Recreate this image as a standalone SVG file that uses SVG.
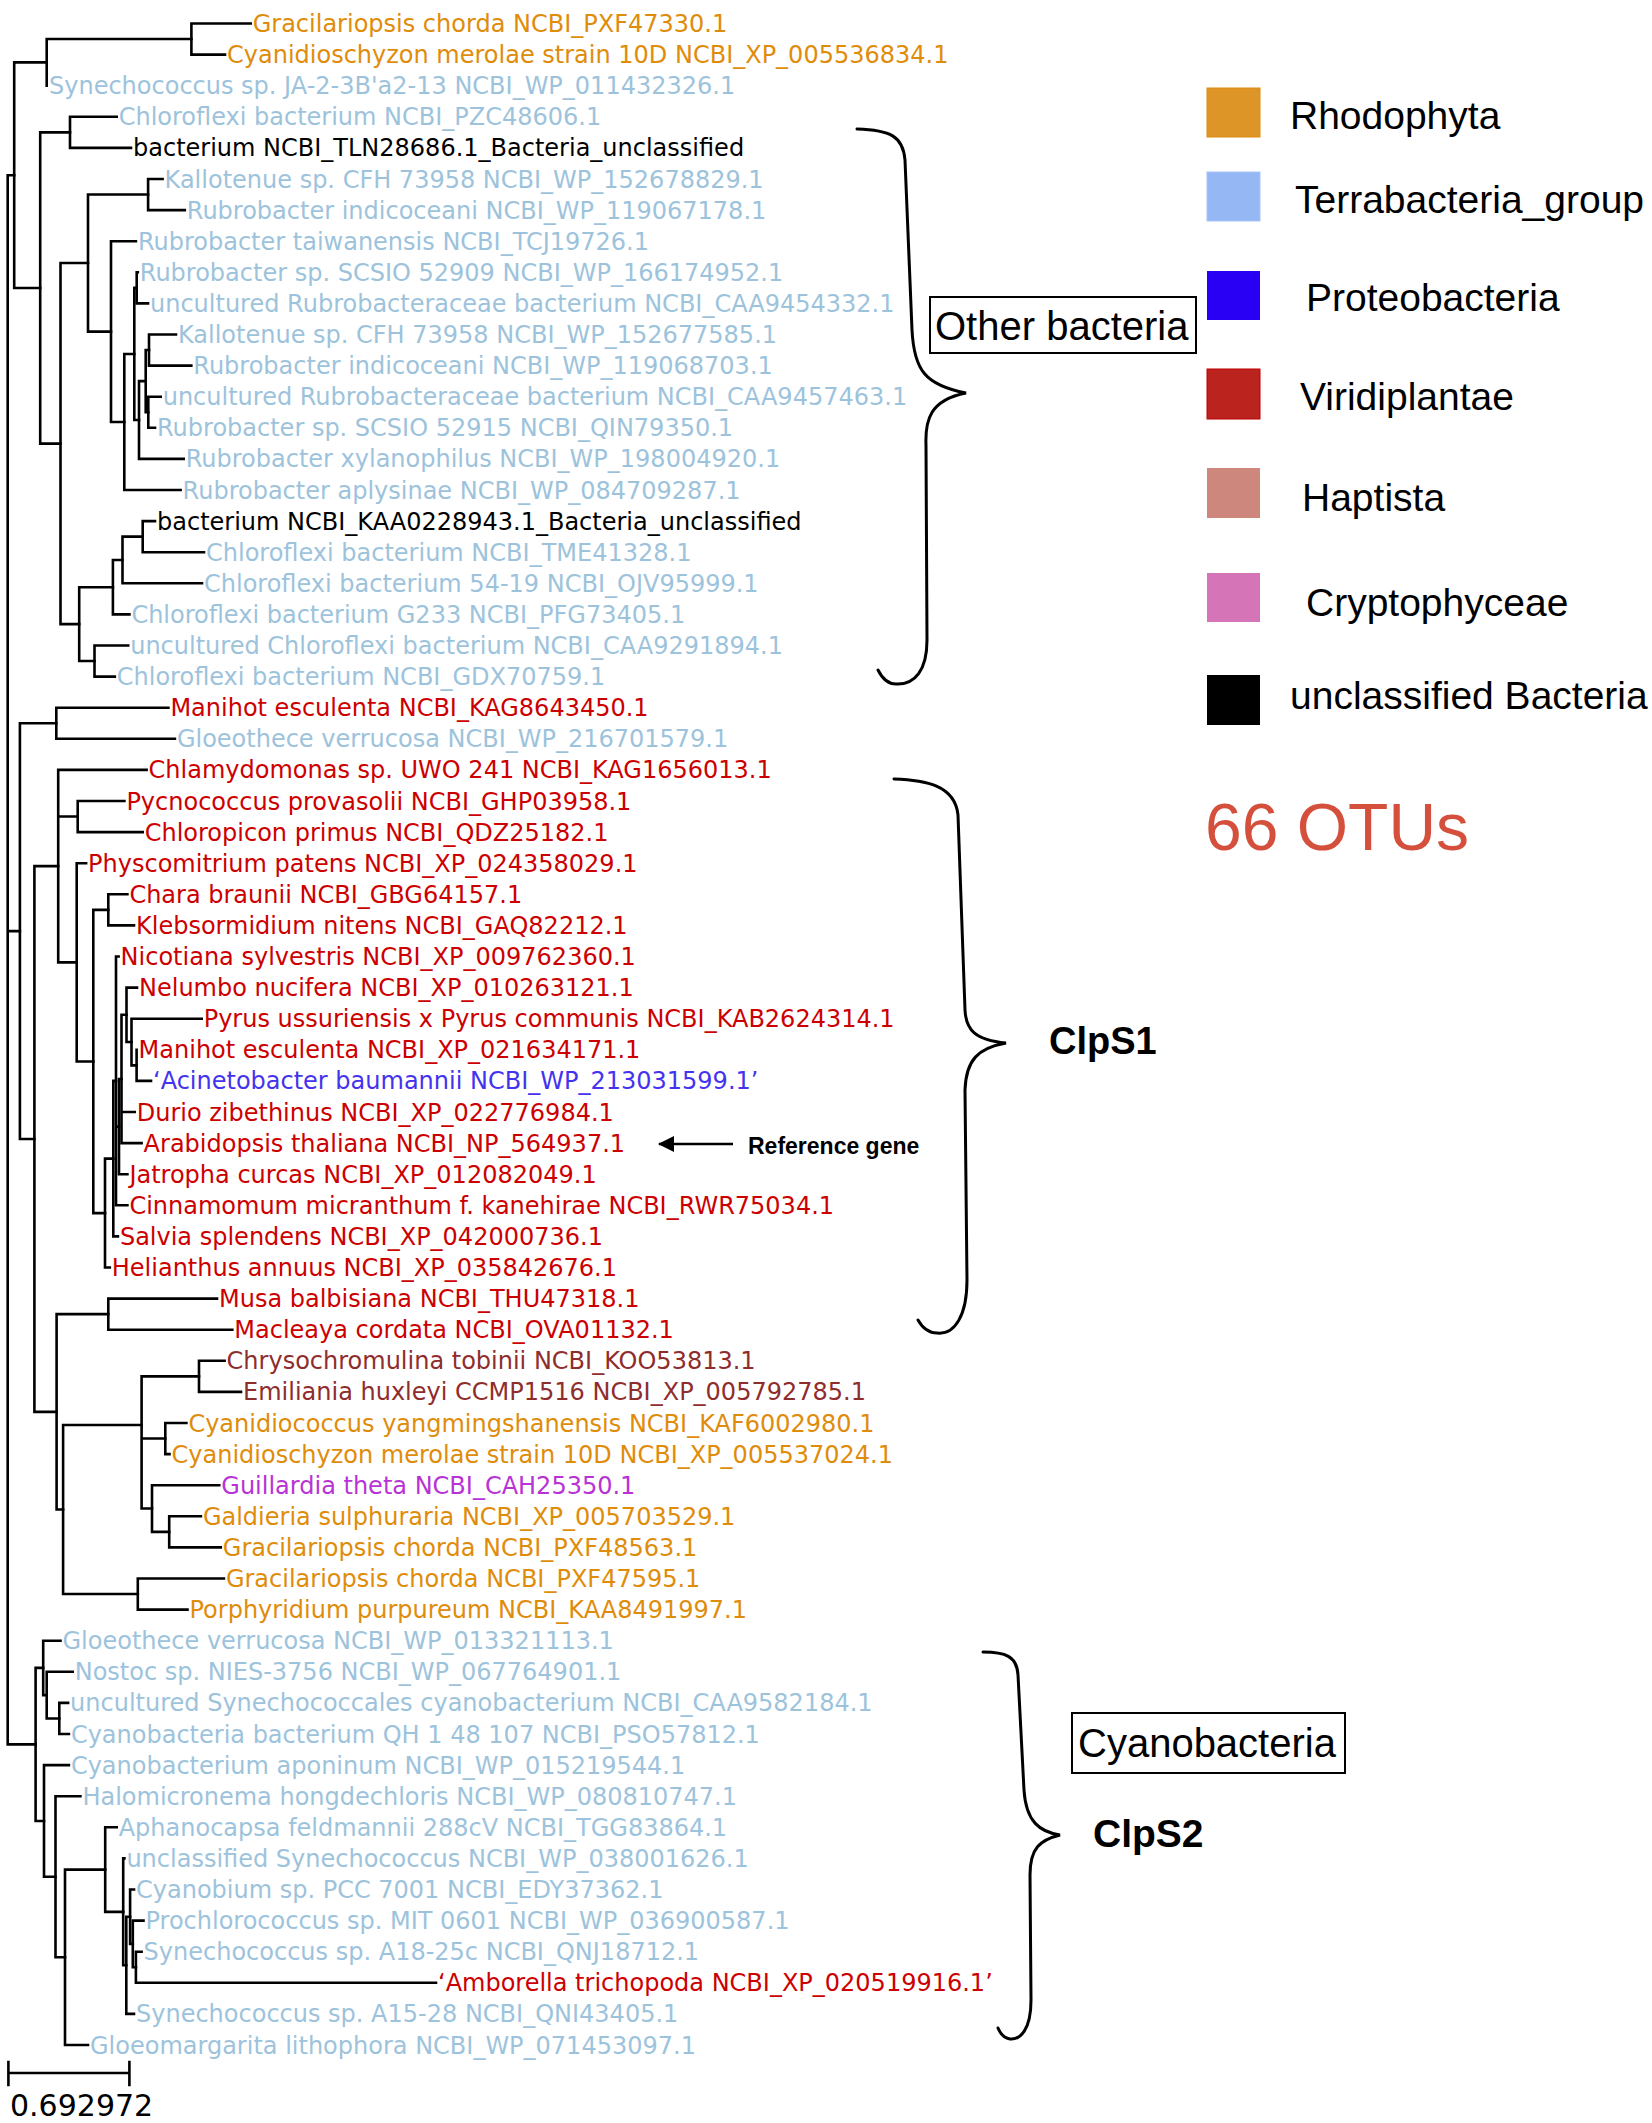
<svg xmlns="http://www.w3.org/2000/svg" width="1652" height="2123" viewBox="0 0 1652 2123">
<defs>
<style>
.lf text{font-family:"DejaVu Sans",Verdana,sans-serif;font-size:24px}
.rh{fill:#E08C0B}.tb{fill:#9DC3DC}.pb{fill:#4433EE}.vp{fill:#CC0000}.hp{fill:#8F2D2D}.cr{fill:#B833D6}.ub{fill:#000}
.br path{fill:none;stroke:#000;stroke-width:2.6;stroke-linecap:square}
.lg{font-family:"Liberation Sans",Arial,sans-serif;font-size:39px;fill:#000}
.bx{font-family:"Liberation Sans",Arial,sans-serif;font-size:40px;fill:#000}
.bold{font-family:"Liberation Sans",Arial,sans-serif;font-weight:bold;fill:#000}
.brace{fill:none;stroke:#000;stroke-width:3;stroke-linecap:round}
</style>
<marker id="ah" markerWidth="16" markerHeight="16" refX="15" refY="8" orient="auto" markerUnits="userSpaceOnUse">
<path d="M16,8 L0,0 L0,16 Z" fill="#000"/>
</marker>
</defs>
<rect width="1652" height="2123" fill="#fff"/>
<g id="connectors" class="br">
<path d="M191.4,23.5V54.6M191.4,23.5H250.7M191.4,54.6H225"/>
<path d="M46.7,39.05V85.7M46.7,39.05H191.4"/>
<path d="M14.2,62.4V287.97M14.2,62.4H46.7M14.2,287.97H40.2"/>
<path d="M40.2,132.35V443.6M40.2,132.35H70M40.2,443.6H60.5"/>
<path d="M70,116.8V147.9M70,116.8H116.7M70,147.9H131"/>
<path d="M60.5,263.07V624.12M60.5,263.07H88M60.5,624.12H79.2"/>
<path d="M88,194.55V331.58M88,194.55H148.1M88,331.58H111"/>
<path d="M148.1,179V210.1M148.1,179H162.6M148.1,210.1H184.8"/>
<path d="M111,241.2V421.97M111,241.2H135.9M111,421.97H124.3"/>
<path d="M124.3,353.94V490M124.3,353.94H134.3M124.3,490H180.6"/>
<path d="M134.3,287.85V420.03M134.3,287.85H136.7M134.3,420.03H139"/>
<path d="M136.7,272.3V303.4M136.7,272.3H137.8M136.7,303.4H148"/>
<path d="M139,381.15V458.9M139,381.15H145.7M139,458.9H183.7"/>
<path d="M145.7,350.05V412.25M145.7,350.05H149M145.7,412.25H148.3"/>
<path d="M149,334.5V365.6M149,334.5H176M149,365.6H191.3"/>
<path d="M148.3,396.7V427.8M148.3,396.7H160.7M148.3,427.8H155"/>
<path d="M79.2,587.19V661.05M79.2,587.19H112.9M79.2,661.05H94.5"/>
<path d="M112.9,559.98V614.4M112.9,559.98H122.5M112.9,614.4H129.4"/>
<path d="M122.5,536.65V583.3M122.5,536.65H142.7M122.5,583.3H202"/>
<path d="M142.7,521.1V552.2M142.7,521.1H155M142.7,552.2H204"/>
<path d="M94.5,645.5V676.6M94.5,645.5H128.2M94.5,676.6H114.8"/>
<path d="M7.7,175.19V1744.4M7.7,175.19H14.2M7.7,931.11H19.9M7.7,1744.4H35.6"/>
<path d="M19.9,723.25V1138.97M19.9,723.25H56.3M19.9,1138.97H34.4"/>
<path d="M56.3,707.7V738.8M56.3,707.7H168.4M56.3,738.8H174.9"/>
<path d="M34.4,866.1V1411.83M34.4,866.1H58.2M34.4,1411.83H56.6"/>
<path d="M58.2,769.9V962.33M58.2,769.9H146.6M58.2,816.55H77.7M58.2,962.33H76.7"/>
<path d="M77.7,801V832.1M77.7,801H124.4M77.7,832.1H142.7"/>
<path d="M76.7,863.2V1061.46M76.7,863.2H86.1M76.7,1061.46H93.3"/>
<path d="M93.3,909.85V1213.08M93.3,909.85H108.3M93.3,1213.08H105"/>
<path d="M108.3,894.3V925.4M108.3,894.3H127.4M108.3,925.4H134"/>
<path d="M105,1158.65V1267.5M105,1158.65H113.3M105,1267.5H109.8"/>
<path d="M113.3,1080.9V1236.4M113.3,1080.9H116M113.3,1236.4H117.9"/>
<path d="M116,956.5V1205.3M116,956.5H118.6M116,1126.58H119M116,1205.3H127.4"/>
<path d="M119,1078.95V1174.2M119,1078.95H121.5M119,1174.2H127.4"/>
<path d="M121.5,1014.8V1143.1M121.5,1014.8H126.5M121.5,1112H134.7M121.5,1143.1H141.6"/>
<path d="M126.5,987.6V1042.03M126.5,987.6H137M126.5,1042.03H131.5"/>
<path d="M131.5,1018.7V1065.35M131.5,1018.7H201.7M131.5,1065.35H136.6"/>
<path d="M136.6,1049.8V1080.9M136.6,1080.9H151"/>
<path d="M56.6,1314.15V1509.5M56.6,1314.15H108.3M56.6,1509.5H63.1"/>
<path d="M108.3,1298.6V1329.7M108.3,1298.6H217M108.3,1329.7H232.3"/>
<path d="M63.1,1424.95V1594.05M63.1,1424.95H141.6M63.1,1594.05H137.8"/>
<path d="M141.6,1376.35V1508.53M141.6,1376.35H199M141.6,1438.55H165.3M141.6,1508.53H152"/>
<path d="M199,1360.8V1391.9M199,1360.8H224.6M199,1391.9H241"/>
<path d="M165.3,1423V1454.1M165.3,1423H186.4M165.3,1454.1H169.5"/>
<path d="M152,1485.2V1531.85M152,1485.2H219.3M152,1531.85H169.2"/>
<path d="M169.2,1516.3V1547.4M169.2,1516.3H200.9M169.2,1547.4H220.8"/>
<path d="M137.8,1578.5V1609.6M137.8,1578.5H223.9M137.8,1609.6H187.5"/>
<path d="M35.6,1667.9V1820.93M35.6,1667.9H43.2M35.6,1820.93H44"/>
<path d="M43.2,1640.7V1695.13M43.2,1640.7H60.5M43.2,1695.13H46.7"/>
<path d="M46.7,1671.8V1718.45M46.7,1671.8H72.7M46.7,1718.45H59.3"/>
<path d="M59.3,1702.9V1734M59.3,1702.9H68.1M59.3,1734H68.9"/>
<path d="M44,1765.1V1876.75M44,1765.1H68.9M44,1876.75H55.5"/>
<path d="M55.5,1796.2V1957.29M55.5,1796.2H80.4M55.5,1957.29H65"/>
<path d="M65,1869.58V2045M65,1869.58H105.2M65,2045H88"/>
<path d="M105.2,1827.3V1911.85M105.2,1827.3H116.7M105.2,1911.85H123.2"/>
<path d="M123.2,1858.4V1965.3M123.2,1858.4H124.4M123.2,1965.3H126.3"/>
<path d="M126.3,1916.7V2013.9M126.3,1916.7H130.1M126.3,2013.9H134"/>
<path d="M130.1,1889.5V1943.93M130.1,1889.5H134M130.1,1943.93H132.8"/>
<path d="M132.8,1920.6V1967.25M132.8,1920.6H143.5M132.8,1967.25H135.9"/>
<path d="M135.9,1951.7V1982.8M135.9,1951.7H141.6M135.9,1982.8H436"/>
<path d="M8.4,2073H129.4M8.4,2062V2085M129.4,2062V2085"/>
</g>
<g class="lf">
<g id="leaf-00" class="rh"><text x="252.7" y="32">Gracilariopsis chorda NCBI_PXF47330.1</text></g>
<g id="leaf-01" class="rh"><text x="227" y="63.1">Cyanidioschyzon merolae strain 10D NCBI_XP_005536834.1</text></g>
<g id="leaf-02" class="tb"><text x="49" y="94.2">Synechococcus sp. JA-2-3B'a2-13 NCBI_WP_011432326.1</text></g>
<g id="leaf-03" class="tb"><text x="118.7" y="125.3">Chloroflexi bacterium NCBI_PZC48606.1</text></g>
<g id="leaf-04" class="ub"><text x="133" y="156.4">bacterium NCBI_TLN28686.1_Bacteria_unclassified</text></g>
<g id="leaf-05" class="tb"><text x="164.6" y="187.5">Kallotenue sp. CFH 73958 NCBI_WP_152678829.1</text></g>
<g id="leaf-06" class="tb"><text x="186.8" y="218.6">Rubrobacter indicoceani NCBI_WP_119067178.1</text></g>
<g id="leaf-07" class="tb"><text x="137.9" y="249.7">Rubrobacter taiwanensis NCBI_TCJ19726.1</text></g>
<g id="leaf-08" class="tb"><text x="139.8" y="280.8">Rubrobacter sp. SCSIO 52909 NCBI_WP_166174952.1</text></g>
<g id="leaf-09" class="tb"><text x="150" y="311.9">uncultured Rubrobacteraceae bacterium NCBI_CAA9454332.1</text></g>
<g id="leaf-10" class="tb"><text x="178" y="343">Kallotenue sp. CFH 73958 NCBI_WP_152677585.1</text></g>
<g id="leaf-11" class="tb"><text x="193.3" y="374.1">Rubrobacter indicoceani NCBI_WP_119068703.1</text></g>
<g id="leaf-12" class="tb"><text x="162.7" y="405.2">uncultured Rubrobacteraceae bacterium NCBI_CAA9457463.1</text></g>
<g id="leaf-13" class="tb"><text x="157" y="436.3">Rubrobacter sp. SCSIO 52915 NCBI_QIN79350.1</text></g>
<g id="leaf-14" class="tb"><text x="185.7" y="467.4">Rubrobacter xylanophilus NCBI_WP_198004920.1</text></g>
<g id="leaf-15" class="tb"><text x="182.6" y="498.5">Rubrobacter aplysinae NCBI_WP_084709287.1</text></g>
<g id="leaf-16" class="ub"><text x="157" y="529.6">bacterium NCBI_KAA0228943.1_Bacteria_unclassified</text></g>
<g id="leaf-17" class="tb"><text x="206" y="560.7">Chloroflexi bacterium NCBI_TME41328.1</text></g>
<g id="leaf-18" class="tb"><text x="204" y="591.8">Chloroflexi bacterium 54-19 NCBI_OJV95999.1</text></g>
<g id="leaf-19" class="tb"><text x="131.4" y="622.9">Chloroflexi bacterium G233 NCBI_PFG73405.1</text></g>
<g id="leaf-20" class="tb"><text x="130.2" y="654">uncultured Chloroflexi bacterium NCBI_CAA9291894.1</text></g>
<g id="leaf-21" class="tb"><text x="116.8" y="685.1">Chloroflexi bacterium NCBI_GDX70759.1</text></g>
<g id="leaf-22" class="vp"><text x="170.4" y="716.2">Manihot esculenta NCBI_KAG8643450.1</text></g>
<g id="leaf-23" class="tb"><text x="176.9" y="747.3">Gloeothece verrucosa NCBI_WP_216701579.1</text></g>
<g id="leaf-24" class="vp"><text x="148.6" y="778.4">Chlamydomonas sp. UWO 241 NCBI_KAG1656013.1</text></g>
<g id="leaf-25" class="vp"><text x="126.4" y="809.5">Pycnococcus provasolii NCBI_GHP03958.1</text></g>
<g id="leaf-26" class="vp"><text x="144.7" y="840.6">Chloropicon primus NCBI_QDZ25182.1</text></g>
<g id="leaf-27" class="vp"><text x="88.1" y="871.7">Physcomitrium patens NCBI_XP_024358029.1</text></g>
<g id="leaf-28" class="vp"><text x="129.4" y="902.8">Chara braunii NCBI_GBG64157.1</text></g>
<g id="leaf-29" class="vp"><text x="136" y="933.9">Klebsormidium nitens NCBI_GAQ82212.1</text></g>
<g id="leaf-30" class="vp"><text x="120.6" y="965">Nicotiana sylvestris NCBI_XP_009762360.1</text></g>
<g id="leaf-31" class="vp"><text x="139" y="996.1">Nelumbo nucifera NCBI_XP_010263121.1</text></g>
<g id="leaf-32" class="vp"><text x="203.7" y="1027.2">Pyrus ussuriensis x Pyrus communis NCBI_KAB2624314.1</text></g>
<g id="leaf-33" class="vp"><text x="138.6" y="1058.3">Manihot esculenta NCBI_XP_021634171.1</text></g>
<g id="leaf-34" class="pb"><text x="153" y="1089.4">‘Acinetobacter baumannii NCBI_WP_213031599.1’</text></g>
<g id="leaf-35" class="vp"><text x="136.7" y="1120.5">Durio zibethinus NCBI_XP_022776984.1</text></g>
<g id="leaf-36" class="vp"><text x="143.6" y="1151.6">Arabidopsis thaliana NCBI_NP_564937.1</text></g>
<g id="leaf-37" class="vp"><text x="129.4" y="1182.7">Jatropha curcas NCBI_XP_012082049.1</text></g>
<g id="leaf-38" class="vp"><text x="129.4" y="1213.8">Cinnamomum micranthum f. kanehirae NCBI_RWR75034.1</text></g>
<g id="leaf-39" class="vp"><text x="119.9" y="1244.9">Salvia splendens NCBI_XP_042000736.1</text></g>
<g id="leaf-40" class="vp"><text x="111.8" y="1276">Helianthus annuus NCBI_XP_035842676.1</text></g>
<g id="leaf-41" class="vp"><text x="219" y="1307.1">Musa balbisiana NCBI_THU47318.1</text></g>
<g id="leaf-42" class="vp"><text x="234.3" y="1338.2">Macleaya cordata NCBI_OVA01132.1</text></g>
<g id="leaf-43" class="hp"><text x="226.6" y="1369.3">Chrysochromulina tobinii NCBI_KOO53813.1</text></g>
<g id="leaf-44" class="hp"><text x="243" y="1400.4">Emiliania huxleyi CCMP1516 NCBI_XP_005792785.1</text></g>
<g id="leaf-45" class="rh"><text x="188.4" y="1431.5">Cyanidiococcus yangmingshanensis NCBI_KAF6002980.1</text></g>
<g id="leaf-46" class="rh"><text x="171.5" y="1462.6">Cyanidioschyzon merolae strain 10D NCBI_XP_005537024.1</text></g>
<g id="leaf-47" class="cr"><text x="221.3" y="1493.7">Guillardia theta NCBI_CAH25350.1</text></g>
<g id="leaf-48" class="rh"><text x="202.9" y="1524.8">Galdieria sulphuraria NCBI_XP_005703529.1</text></g>
<g id="leaf-49" class="rh"><text x="222.8" y="1555.9">Gracilariopsis chorda NCBI_PXF48563.1</text></g>
<g id="leaf-50" class="rh"><text x="225.9" y="1587">Gracilariopsis chorda NCBI_PXF47595.1</text></g>
<g id="leaf-51" class="rh"><text x="189.5" y="1618.1">Porphyridium purpureum NCBI_KAA8491997.1</text></g>
<g id="leaf-52" class="tb"><text x="62.5" y="1649.2">Gloeothece verrucosa NCBI_WP_013321113.1</text></g>
<g id="leaf-53" class="tb"><text x="74.7" y="1680.3">Nostoc sp. NIES-3756 NCBI_WP_067764901.1</text></g>
<g id="leaf-54" class="tb"><text x="70.1" y="1711.4">uncultured Synechococcales cyanobacterium NCBI_CAA9582184.1</text></g>
<g id="leaf-55" class="tb"><text x="70.9" y="1742.5">Cyanobacteria bacterium QH 1 48 107 NCBI_PSO57812.1</text></g>
<g id="leaf-56" class="tb"><text x="70.9" y="1773.6">Cyanobacterium aponinum NCBI_WP_015219544.1</text></g>
<g id="leaf-57" class="tb"><text x="82.4" y="1804.7">Halomicronema hongdechloris NCBI_WP_080810747.1</text></g>
<g id="leaf-58" class="tb"><text x="118.7" y="1835.8">Aphanocapsa feldmannii 288cV NCBI_TGG83864.1</text></g>
<g id="leaf-59" class="tb"><text x="126.4" y="1866.9">unclassified Synechococcus NCBI_WP_038001626.1</text></g>
<g id="leaf-60" class="tb"><text x="136" y="1898">Cyanobium sp. PCC 7001 NCBI_EDY37362.1</text></g>
<g id="leaf-61" class="tb"><text x="145.5" y="1929.1">Prochlorococcus sp. MIT 0601 NCBI_WP_036900587.1</text></g>
<g id="leaf-62" class="tb"><text x="143.6" y="1960.2">Synechococcus sp. A18-25c NCBI_QNJ18712.1</text></g>
<g id="leaf-63" class="vp"><text x="438" y="1991.3">‘Amborella trichopoda NCBI_XP_020519916.1’</text></g>
<g id="leaf-64" class="tb"><text x="136" y="2022.4">Synechococcus sp. A15-28 NCBI_QNI43405.1</text></g>
<g id="leaf-65" class="tb"><text x="90" y="2053.5">Gloeomargarita lithophora NCBI_WP_071453097.1</text></g>
</g>
<g id="scale-label"><text x="10" y="2116" font-family="DejaVu Sans, sans-serif" font-size="30" fill="#000">0.692972</text></g>
<g id="brace-other">
<path class="brace" d="M857,129 C890,130 903,136 905,160 L912,330 C914,370 925,385 966,393 C930,400 925,420 926,445 L927,640 C927,670 915,685 896,684 C888,684 882,678 878,670"/>
<rect x="930" y="297" width="266" height="56" fill="none" stroke="#000" stroke-width="2"/>
<text class="bx" x="935" y="340">Other bacteria</text>
</g>
<g id="brace-clps1">
<path class="brace" d="M894,779 C925,780 955,785 958,815 L965,1010 C966,1030 975,1040 1006,1043 C978,1048 966,1060 965,1090 L967,1280 C967,1315 955,1335 937,1333 C928,1333 922,1327 918,1320"/>
<text class="bold" x="1049" y="1054" font-size="38">ClpS1</text>
</g>
<g id="reference-gene">
<path d="M733,1144H659" stroke="#000" stroke-width="2.6" fill="none" marker-end="url(#ah)"/>
<text class="bold" x="748" y="1154" font-size="23">Reference gene</text>
</g>
<g id="brace-clps2">
<path class="brace" d="M983,1652 C1005,1652 1017,1656 1018,1675 L1024,1790 C1026,1822 1040,1832 1060,1835 C1040,1840 1030,1848 1030,1875 L1031,2000 C1031,2030 1020,2040 1010,2039 C1004,2038 1000,2033 998,2028"/>
<rect x="1072" y="1713" width="273" height="60" fill="none" stroke="#000" stroke-width="2"/>
<text class="bx" x="1078" y="1757">Cyanobacteria</text>
<text class="bold" x="1093" y="1847" font-size="39">ClpS2</text>
</g>
<g id="legend">
<rect x="1207" y="88" width="53" height="49" fill="#DD9527" stroke="#E08A10" stroke-width="1"/>
<text class="lg" x="1290" y="129">Rhodophyta</text>
<rect x="1207" y="172" width="53" height="49" fill="#95B8F5" stroke="#A8C4F5" stroke-width="1"/>
<text class="lg" x="1295" y="213">Terrabacteria_group</text>
<rect x="1207" y="271" width="53" height="49" fill="#2A00F5"/>
<text class="lg" x="1306" y="311">Proteobacteria</text>
<rect x="1207" y="369" width="53" height="50" fill="#BA231E" stroke="#C00000" stroke-width="1"/>
<text class="lg" x="1300" y="410">Viridiplantae</text>
<rect x="1207" y="468" width="53" height="50" fill="#CE877D"/>
<text class="lg" x="1302" y="511">Haptista</text>
<rect x="1207" y="573" width="53" height="49" fill="#D574B6"/>
<text class="lg" x="1306" y="616">Cryptophyceae</text>
<rect x="1207" y="675" width="53" height="50" fill="#000"/>
<text class="lg" x="1290" y="709">unclassified Bacteria</text>
<text x="1205" y="850" font-family="Liberation Sans, Arial, sans-serif" font-size="66" fill="#D4503C">66 OTUs</text>
</g>
</svg>
